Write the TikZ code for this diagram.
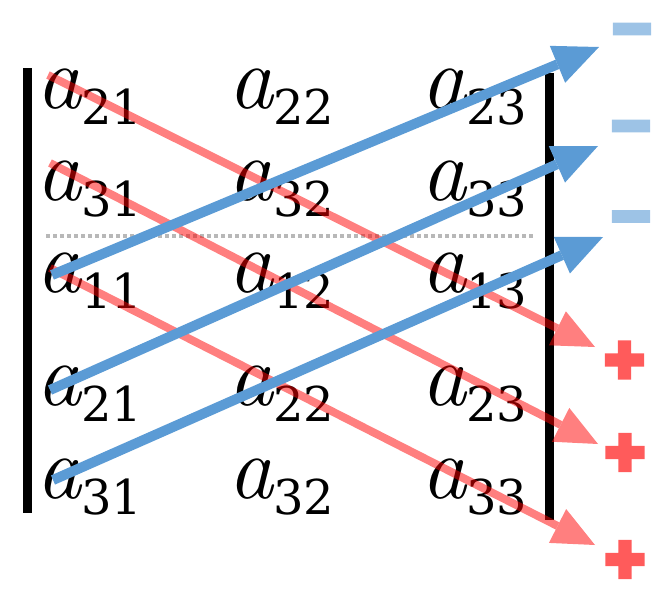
\documentclass[tikz,border=0pt]{standalone}
\usepackage{fontspec}
\usetikzlibrary{arrows.meta}
\newfontfamily\signfont[FakeBold=14]{DejaVu Sans Bold}
\newfontfamily\entfont{Latin Modern Roman}
\newfontfamily\subfont{DejaVu Serif}
\definecolor{redline}{HTML}{FF0000}
\definecolor{blueline}{HTML}{5B9BD5}
\definecolor{minuscol}{HTML}{9DC3E6}
\definecolor{pluscol}{HTML}{FF5B5B}
\definecolor{dotcol}{HTML}{B8B8B8}
\newcommand{\ent}[1]{{\entfont\itshape\fontsize{90}{90}\selectfont a}\kern0pt\raisebox{-16pt}{\subfont\fontsize{48}{48}\selectfont #1}}
\begin{document}
\begin{tikzpicture}[x=1pt,y=-1pt,
  entry/.style={anchor=base west,inner sep=0pt,outer sep=0pt},
  bar/.style={line width=9pt,black},
  redarrow/.style={line width=8pt,draw=redline,fill=redline,-{Triangle[length=42pt,width=38pt,line width=0pt]}},
  bluearrow/.style={line width=10pt,draw=blueline,fill=blueline,-{Triangle[length=45pt,width=40pt,line width=0pt]}},
  minussign/.style={inner sep=0pt,text=minuscol,font=\signfont\fontsize{50}{50}\selectfont},
  plussign/.style={inner sep=0pt,text=pluscol,font=\signfont\fontsize{51}{51}\selectfont}]
\useasboundingbox (0,0) rectangle (672,592);
% bars
\coordinate (lt) at (27,68);
\coordinate (lb) at (27,513);
\coordinate (rt) at (549.5,73);
\coordinate (rb) at (549.5,520);
\draw[bar] (lt) -- (lb);
\draw[bar] (rt) -- (rb);
% entries
\node[entry] (e11) at (36,108) {\ent{21}};
\node[entry] (e12) at (228,108) {\ent{22}};
\node[entry] (e13) at (421,108) {\ent{23}};
\node[entry] (e21) at (36,200) {\ent{31}};
\node[entry] (e22) at (228,200) {\ent{32}};
\node[entry] (e23) at (421,200) {\ent{33}};
\node[entry] (e31) at (36,292) {\ent{11}};
\node[entry] (e32) at (228,292) {\ent{12}};
\node[entry] (e33) at (421,292) {\ent{13}};
\node[entry] (e41) at (36,405) {\ent{21}};
\node[entry] (e42) at (228,405) {\ent{22}};
\node[entry] (e43) at (421,405) {\ent{23}};
\node[entry] (e51) at (36,498) {\ent{31}};
\node[entry] (e52) at (228,498) {\ent{32}};
\node[entry] (e53) at (421,498) {\ent{33}};
% dotted separator
\coordinate (dl) at (46,236);
\coordinate (dr) at (533,236);
\draw[dotcol,line width=3.8pt,dash pattern=on 3.8pt off 3.2pt] (dl) -- (dr);
% arrow ends
\coordinate (r1s) at (48,75);   \coordinate (r1e) at (595,347);
\coordinate (r2s) at (50,163);  \coordinate (r2e) at (598,444);
\coordinate (r3s) at (50,268);  \coordinate (r3e) at (595,545);
\coordinate (b1s) at (52,275);  \coordinate (b1e) at (599,47);
\coordinate (b2s) at (50,390);  \coordinate (b2e) at (598,146);
\coordinate (b3s) at (53,480);  \coordinate (b3e) at (603,237);
\begin{scope}[transparency group,opacity=0.5]
\draw[redarrow] (r1s) -- (r1e);
\draw[redarrow] (r2s) -- (r2e);
\draw[redarrow] (r3s) -- (r3e);
\end{scope}
\draw[bluearrow] (b1s) -- (b1e);
\draw[bluearrow] (b2s) -- (b2e);
\draw[bluearrow] (b3s) -- (b3e);
% signs
\node[minussign] (m1) at (632,35.5) {−};
\node[minussign] (m2) at (631,132.5) {−};
\node[minussign] (m3) at (631,223) {−};
\node[plussign] (p1) at (624.5,360) {+};
\node[plussign] (p2) at (625,452.5) {+};
\node[plussign] (p3) at (625,559.5) {+};
\end{tikzpicture}
\end{document}
